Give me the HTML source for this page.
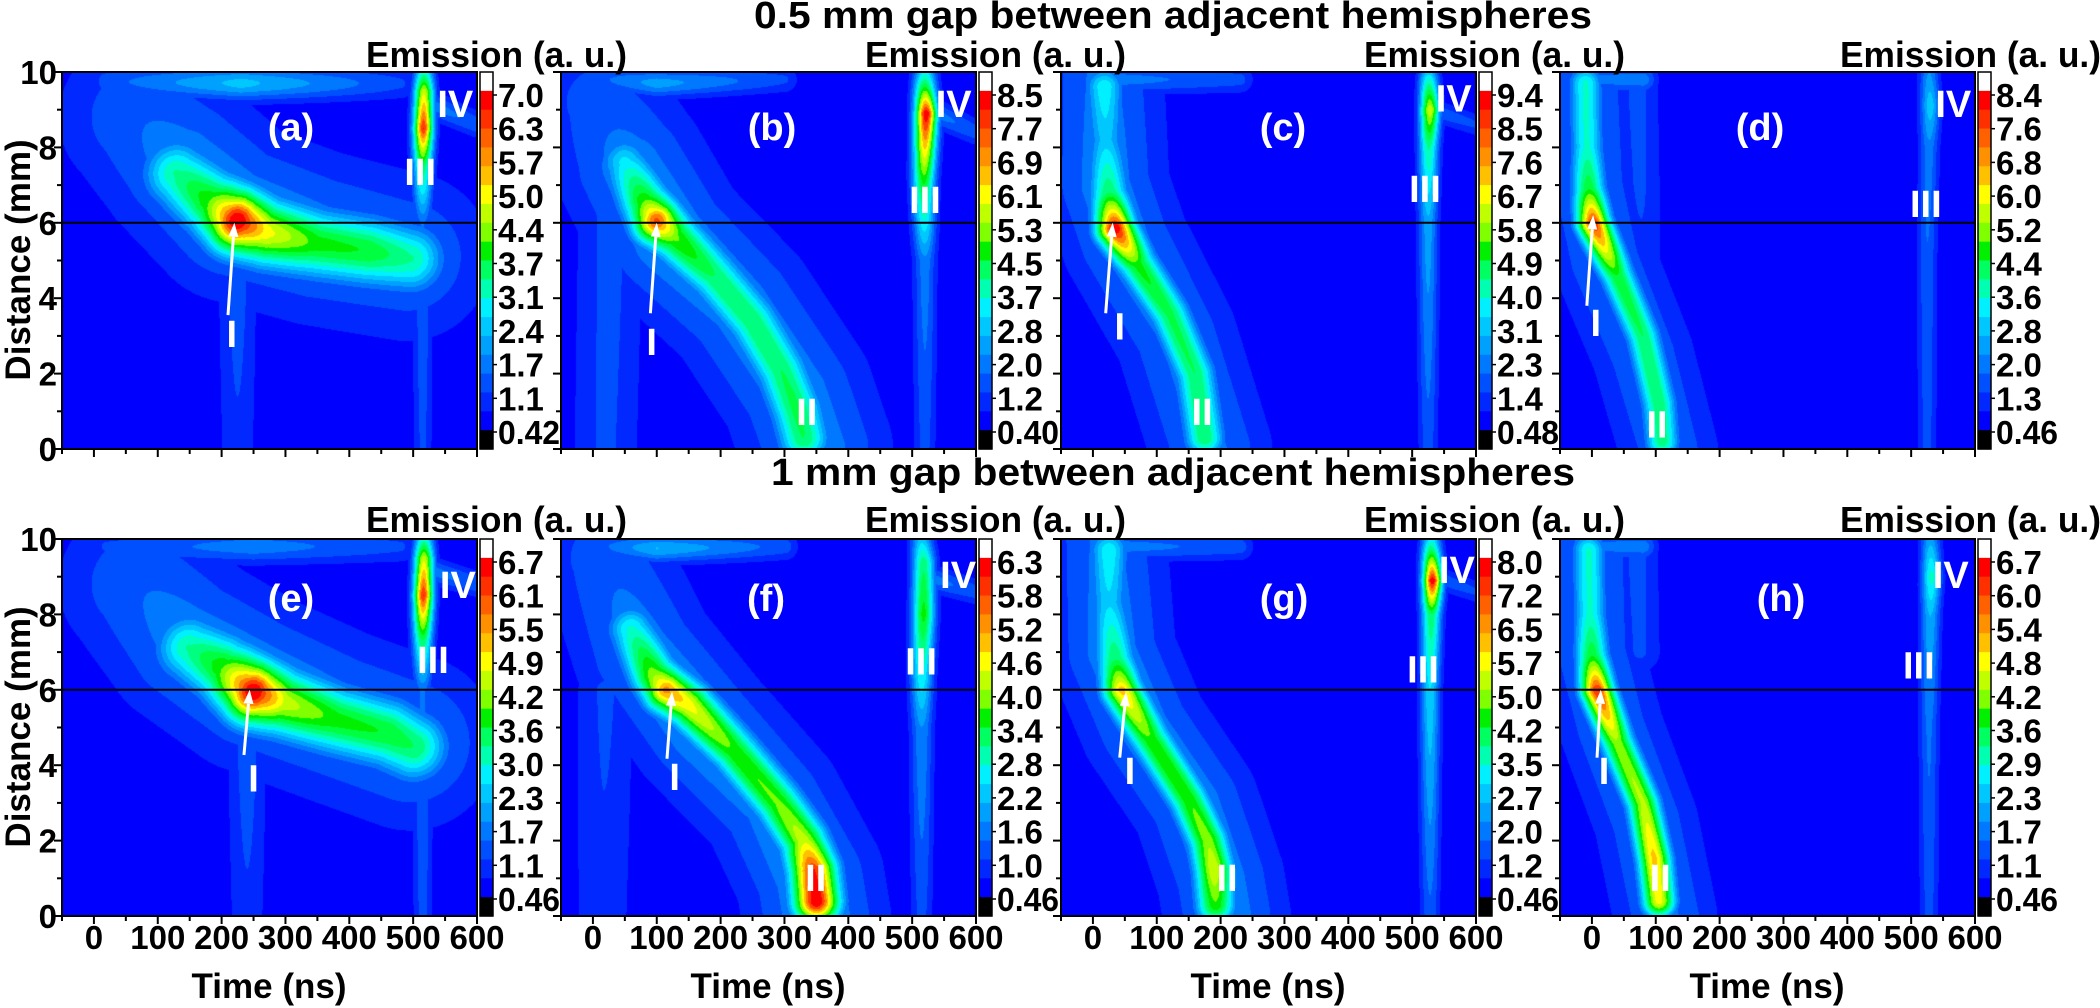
<!DOCTYPE html>
<html><head><meta charset="utf-8"><style>
html,body{margin:0;padding:0;background:#fff}
#wrap{position:relative;width:2100px;height:1008px;overflow:hidden;background:#fff}
canvas,svg{position:absolute;left:0;top:0}
text{font-family:"Liberation Sans",Arial,sans-serif;font-weight:bold}
</style></head><body><div id="wrap">
<canvas id="c" width="2100" height="1008"></canvas>
<svg id="s" width="2100" height="1008" viewBox="0 0 2100 1008">
<text x="1173" y="28" font-size="38" text-anchor="middle" textLength="838" lengthAdjust="spacingAndGlyphs">0.5 mm gap between adjacent hemispheres</text>
<text x="1173" y="485" font-size="38" text-anchor="middle" textLength="804" lengthAdjust="spacingAndGlyphs">1 mm gap between adjacent hemispheres</text>
<text transform="translate(30,260) rotate(-90)" font-size="35" text-anchor="middle">Distance (mm)</text>
<text transform="translate(30,727) rotate(-90)" font-size="35" text-anchor="middle">Distance (mm)</text>
<text x="269" y="998" font-size="35" text-anchor="middle">Time (ns)</text>
<text x="768" y="998" font-size="35" text-anchor="middle">Time (ns)</text>
<text x="1268" y="998" font-size="35" text-anchor="middle">Time (ns)</text>
<text x="1767" y="998" font-size="35" text-anchor="middle">Time (ns)</text>
<text x="366" y="67" font-size="36" textLength="261" lengthAdjust="spacingAndGlyphs">Emission (a. u.)</text>
<text x="865" y="67" font-size="36" textLength="261" lengthAdjust="spacingAndGlyphs">Emission (a. u.)</text>
<text x="1364" y="67" font-size="36" textLength="261" lengthAdjust="spacingAndGlyphs">Emission (a. u.)</text>
<text x="1840" y="67" font-size="36" textLength="261" lengthAdjust="spacingAndGlyphs">Emission (a. u.)</text>
<text x="366" y="532" font-size="36" textLength="261" lengthAdjust="spacingAndGlyphs">Emission (a. u.)</text>
<text x="865" y="532" font-size="36" textLength="261" lengthAdjust="spacingAndGlyphs">Emission (a. u.)</text>
<text x="1364" y="532" font-size="36" textLength="261" lengthAdjust="spacingAndGlyphs">Emission (a. u.)</text>
<text x="1840" y="532" font-size="36" textLength="261" lengthAdjust="spacingAndGlyphs">Emission (a. u.)</text>
<g id="g"></g>
</svg>
</div>
<script>
var W=415,H=377,PX=W/650,PY=37.7;
function F(s,a){var p=[];for(var i=0;i<a.length;i+=3)p.push([a[i],a[i+1],a[i+2]]);return{s:s,p:p};}
var panels=[
{L:62,T:72,n:"(a)",nx:229,cb:["7.0","6.3","5.7","5.0","4.4","3.7","3.1","2.4","1.7","1.1","0.42"],
f:[F(55,[70,8.8,.16,140,7.6,.2,220,6.3,.22,350,5.6,.2,490,5.1,.18]),
F(24,[130,7.3,.45,180,6.6,.6,225,6.05,1.0,270,5.75,.75,350,5.45,.58,430,5.25,.55,495,5.05,.45]),
F(12,[20,9.75,.14,230,9.7,.3,480,9.7,.12]),F(14,[225,5,.14,225,0,.1]),
F(7,[515,0,.12,515,6,.17,515,7.5,.5,516,8.5,.95,517,9.5,.7,517,10,.4]),F(9,[520,9.2,.2,600,8.6,.15])],
lab:[["I",216,2.7],["III",511,7.0],["IV",566,8.8]],ar:[210,3.55,220,6.0]},
{L:561,T:72,n:"(b)",nx:211,cb:["8.5","7.7","6.9","6.1","5.3","4.5","3.7","2.8","2.0","1.2","0.40"],
f:[F(48,[10,9.2,.14,60,7.5,.2,120,5.6,.22,230,3.8,.2,320,1.5,.2,350,0,.2]),F(25,[30,8,.13,20,0,.12]),
F(18,[50,7.6,.35,80,6.6,.6,100,6.05,.9,130,5.6,.62,190,4.6,.5,250,3.4,.5,295,2.1,.5,320,1.0,.52,330,0.3,.5]),
F(10,[20,9.8,.16,100,9.7,.25,300,9.8,.12]),
F(8,[520,0,.13,520,5,.2,518,7,.55,522,8.9,1.0,520,9.6,.55,520,10,.35]),F(9,[525,9,.2,600,8.4,.14])],
lab:[["I",92,2.5],["II",335,0.64],["III",520,6.26],["IV",565,8.8]],ar:[90,3.6,100,6.0]},
{L:1061,T:72,n:"(c)",nx:222,cb:["9.4","8.5","7.6","6.7","5.8","4.9","4.0","3.1","2.3","1.4","0.48"],
f:[F(40,[15,10,.18,20,7,.2,50,5.5,.2,130,3,.18,185,0,.18]),
F(14,[18,9.6,.38,20,8.2,.3,25,6.8,.5,35,5.85,1.0,70,4.9,.58,120,3.6,.52,160,2,.5,175,0.3,.5]),
F(10,[20,9.8,.2,230,9.8,.13]),
F(7,[525,0,.14,525,6,.26,526,8,.45,528,9,.72,526,9.8,.4,526,10,.3]),F(8,[530,9,.15,600,8.6,.12])],
lab:[["I",42,2.9],["II",171,0.64],["III",520,6.55],["IV",565,8.95]],ar:[20,3.6,31,6.0]},
{L:1560,T:72,n:"(d)",nx:200,cb:["8.4","7.6","6.8","6.0","5.2","4.4","3.6","2.8","2.0","1.3","0.46"],
f:[F(34,[-10,10,.17,-5,7,.18,20,5,.18,80,2.5,.17,120,0,.16]),
F(12,[-10,9.7,.4,-8,8,.4,-5,6.9,.55,2,6.0,.95,40,4.6,.55,80,3,.5,105,1.2,.5,110,0.2,.48]),
F(16,[70,10,.13,75,7,.12,80,5,.1]),F(10,[0,9.8,.18,80,9.8,.2]),
F(7,[525,0,.13,525,5,.16,528,8,.2,530,9.1,.32,528,10,.22])],
lab:[["I",6,3.0],["II",102,0.3],["III",523,6.15],["IV",566,8.8]],ar:[-8,3.8,2,6.2]},
{L:62,T:539,n:"(e)",nx:229,cb:["6.7","6.1","5.5","4.9","4.2","3.6","3.0","2.3","1.7","1.1","0.46"],
f:[F(55,[70,8.8,.16,150,7.3,.2,250,6.2,.22,380,5.3,.2,495,4.6,.2]),
F(24,[150,7.1,.45,200,6.6,.6,250,5.95,1.0,300,5.65,.7,380,5.2,.58,460,4.85,.55,500,4.5,.5]),
F(12,[20,9.8,.12,250,9.8,.2,480,9.8,.12]),F(14,[240,4.5,.14,240,0,.1]),
F(7,[515,0,.13,515,6,.18,515,7.3,.5,516,8.5,.95,517,9.5,.7,517,10,.4]),F(9,[520,9.2,.2,600,8.8,.15])],
lab:[["I",250,3.3],["III",531,6.44],["IV",570,8.43]],ar:[235,4.27,244,6.0]},
{L:561,T:539,n:"(f)",nx:205,cb:["6.3","5.8","5.2","4.6","4.0","3.4","2.8","2.2","1.6","1.0","0.46"],
f:[F(45,[20,9.5,.15,80,7,.2,170,5,.22,280,3,.2,340,1,.22,350,0,.22]),F(22,[20,6,.12,15,0,.1]),
F(17,[60,7.6,.4,95,6.4,.65,115,6.0,.85,150,5.6,.75,220,4.4,.6,290,3.0,.62,330,2.0,.7,345,1.2,.95,350,0.4,1.0]),
F(10,[20,9.8,.16,100,9.75,.28,300,9.8,.14]),
F(8,[515,0,.13,515,5,.22,515,6.5,.4,518,8,.58,518,9.4,.48,515,10,.3]),F(9,[520,9,.2,600,8.6,.14])],
lab:[["I",128,3.34],["II",349,0.66],["III",514,6.4],["IV",572,8.7]],ar:[116,4.17,124,5.95]},
{L:1061,T:539,n:"(g)",nx:223,cb:["8.0","7.2","6.5","5.7","5.0","4.2","3.5","2.7","2.0","1.2","0.46"],
f:[F(40,[20,10,.18,30,7,.2,80,5,.2,160,3,.2,200,1,.2,210,0,.2]),
F(14,[25,9.7,.38,25,8.3,.32,35,6.8,.5,45,6.0,.8,90,4.7,.6,150,3.1,.6,180,2,.65,190,1.2,.72,192,0.3,.6]),
F(10,[20,9.8,.2,230,9.8,.14]),
F(7,[528,0,.15,528,6,.33,530,8,.5,532,8.9,1.0,530,9.7,.5,530,10,.35]),F(8,[535,9,.15,600,8.6,.12])],
lab:[["I",58,3.5],["II",210,0.66],["III",517,6.2],["IV",570,8.83]],ar:[42,4.2,52,5.94]},
{L:1560,T:539,n:"(h)",nx:221,cb:["6.7","6.0","5.4","4.8","4.2","3.6","2.9","2.3","1.7","1.1","0.46"],
f:[F(34,[-5,10,.18,0,7,.18,30,5,.18,85,2.5,.18,115,0,.18]),
F(12,[-5,9.7,.4,-3,8,.4,0,6.9,.55,8,6.0,.95,40,4.6,.65,80,3,.68,98,1.5,.8,105,0.4,.75]),
F(16,[70,10,.13,75,7,.12]),F(10,[0,9.8,.18,80,9.8,.2]),
F(7,[528,0,.13,528,5,.18,530,8,.28,532,9,.42,530,10,.25])],
lab:[["I",19,3.5],["II",107,0.66],["III",512,6.3],["IV",562,8.7]],ar:[8,4.2,14,6.0]}
];
var cmap=["#0000ff","#0028ff","#0050ff","#0078ff","#00a0ff","#00c8ff","#00f0ff","#00ffc0","#00ff80","#00ff40","#00f000","#80ff00","#c0ff00","#ffff00","#ffc000","#ff8000","#ff4000","#ff0000"];
function hex(h){return [parseInt(h.substr(1,2),16),parseInt(h.substr(3,2),16),parseInt(h.substr(5,2),16)];}
var crgb=cmap.map(hex);
var cv=document.getElementById("c"),ctx=cv.getContext("2d");
panels.forEach(function(P){
  var segs=[];
  P.f.forEach(function(f){
    var pts=f.p.map(function(q){return [(q[0]+50)*PX,(10-q[1])*PY,q[2]];});
    if(pts.length==1)pts.push(pts[0]);
    for(var i=0;i<pts.length-1;i++)segs.push([pts[i],pts[i+1],f.s]);
  });
  var img=ctx.createImageData(W,H),d=img.data;
  for(var y=0;y<H;y++)for(var x=0;x<W;x++){
    var v=0,px=x+.5,py=y+.5;
    for(var k=0;k<segs.length;k++){
      var a=segs[k][0],b=segs[k][1],s=segs[k][2];
      var dx=b[0]-a[0],dy=b[1]-a[1],l2=dx*dx+dy*dy,u=0;
      if(l2>0){u=((px-a[0])*dx+(py-a[1])*dy)/l2;u=u<0?0:u>1?1:u;}
      var cx=a[0]+u*dx-px,cy=a[1]+u*dy-py,dd=cx*cx+cy*cy;
      var amp=a[2]+(b[2]-a[2])*u;
      if(amp<=v)continue;
      var val=amp*Math.exp(-dd/(2*s*s));
      if(val>v)v=val;
    }
    var lv=Math.floor(v*18);if(lv>17)lv=17;
    var c=crgb[lv],o=(y*W+x)*4;
    d[o]=c[0];d[o+1]=c[1];d[o+2]=c[2];d[o+3]=255;
  }
  ctx.putImageData(img,P.L,P.T);
});
var g="";
function T(t){return (t+50)*PX;}
panels.forEach(function(P,idx){
  var L=P.L,Tp=P.T,R=L+W,B=Tp+H;
  var y6=Tp+4*PY;
  g+='<line x1="'+L+'" y1="'+y6+'" x2="'+R+'" y2="'+y6+'" stroke="#000" stroke-width="2"/>';
  g+='<rect x="'+L+'" y="'+Tp+'" width="'+W+'" height="'+H+'" fill="none" stroke="#000" stroke-width="2"/>';
  for(var k=0;k<=10;k++){var yy=Tp+(10-k)*PY,len=k%2==0?8:5;
    g+='<line x1="'+(L-len)+'" y1="'+yy+'" x2="'+L+'" y2="'+yy+'" stroke="#000" stroke-width="2"/>';
    if((idx==0||idx==4)&&k%2==0)g+='<text x="57" y="'+(yy+12)+'" font-size="33" text-anchor="end">'+k+'</text>';}
  for(var t=-50;t<=600;t+=50){var xx=L+T(t),len=t%100==0?8:5;
    g+='<line x1="'+xx+'" y1="'+B+'" x2="'+xx+'" y2="'+(B+len)+'" stroke="#000" stroke-width="2"/>';
    if(Tp>300&&t%100==0&&t>=0)g+='<text x="'+xx+'" y="949" font-size="33" text-anchor="middle">'+t+'</text>';}
  var cols=["#ffffff","#ff0000","#ff3000","#ff6000","#ff9000","#ffc000","#ffff00","#c0ff00","#80ff00","#00f000","#00ff60","#00ffb0","#00f0ff","#00c8ff","#00a0ff","#0078ff","#0050ff","#0028ff","#0000ff","#000000"];
  var sh=H/cols.length;
  cols.forEach(function(c,i){g+='<rect x="'+(R+3)+'" y="'+(Tp+i*sh)+'" width="13" height="'+(sh+0.6)+'" fill="'+c+'"/>';});
  g+='<rect x="'+(R+3)+'" y="'+Tp+'" width="13" height="'+H+'" fill="none" stroke="#000" stroke-width="1.5"/>';
  P.cb.forEach(function(s,i){var yy=Tp+23+i*33.7;
    g+='<line x1="'+(R+16)+'" y1="'+yy+'" x2="'+(R+20)+'" y2="'+yy+'" stroke="#000" stroke-width="1.5"/>';
    g+='<text x="'+(R+21)+'" y="'+(yy+12)+'" font-size="33"'+(s.length>3?' textLength="62" lengthAdjust="spacingAndGlyphs"':'')+'>'+s+'</text>';});
  g+='<text x="'+(L+P.nx)+'" y="'+(Tp+(Tp>300?72:68))+'" font-size="38" fill="#fff" text-anchor="middle">'+P.n+'</text>';
  P.lab.forEach(function(l){g+='<text x="'+(L+T(l[1]))+'" y="'+(Tp+(10-l[2])*PY)+'" font-size="38" fill="#fff" text-anchor="middle">'+l[0]+'</text>';});
  var a=P.ar,x1=L+T(a[0]),y1=Tp+(10-a[1])*PY,x2=L+T(a[2]),y2=Tp+(10-a[3])*PY;
  var dx=x2-x1,dy=y2-y1,ln=Math.sqrt(dx*dx+dy*dy),ux=dx/ln,uy=dy/ln;
  var bx=x2-ux*14,by=y2-uy*14;
  g+='<line x1="'+x1+'" y1="'+y1+'" x2="'+bx+'" y2="'+by+'" stroke="#fff" stroke-width="3"/>';
  g+='<polygon points="'+x2+','+y2+' '+(bx-uy*5)+','+(by+ux*5)+' '+(bx+uy*5)+','+(by-ux*5)+'" fill="#fff"/>';
});
document.getElementById("g").innerHTML=g;
</script>
</body></html>
